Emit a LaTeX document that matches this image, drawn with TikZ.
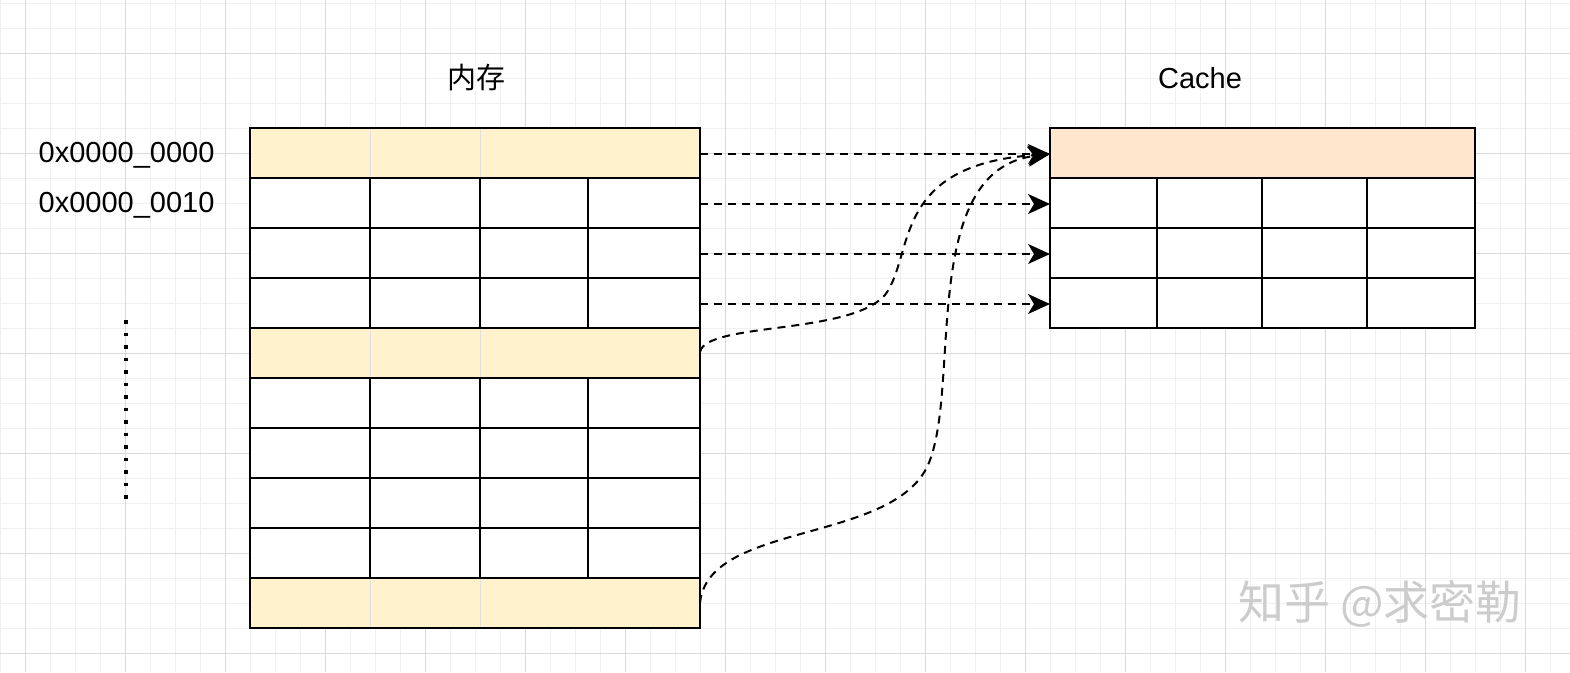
\documentclass[tikz,border=0pt]{standalone}
\usepackage{fontspec}
\setmainfont{Liberation Sans}
\newfontfamily\cjk{Noto Sans CJK SC}
\usetikzlibrary{arrows.meta}
\definecolor{memy}{HTML}{FFF2CC}
\definecolor{cacheo}{HTML}{FFE6CC}
\begin{document}
\begin{tikzpicture}[x=1pt,y=-1pt,
  cell/.style={draw=black,line width=2.2pt,fill=white},
  conn/.style={line width=2pt,dash pattern=on 8pt off 6pt,-{Stealth[length=22pt,width=20pt,inset=6pt]}},
  lab/.style={font=\fontsize{29}{32}\selectfont,anchor=center}]
\useasboundingbox (0,0) rectangle (1570,672);
\fill[white] (0,0) rectangle (1570,672);
% grid
\foreach \x in {0,25,...,1570} \draw[gray!12,line width=0.8pt] (\x,0) -- (\x,672);
\foreach \y in {3,28,...,672} \draw[gray!12,line width=0.8pt] (0,\y) -- (1570,\y);
\foreach \x in {25,125,...,1570} \draw[gray!30,line width=0.8pt] (\x,0) -- (\x,672);
\foreach \y in {53,153,...,672} \draw[gray!30,line width=0.8pt] (0,\y) -- (1570,\y);
% memory
\foreach \r in {0,...,9} {
  \pgfmathsetmacro\ya{128+50*\r}
  \foreach \xa/\xb in {250/370,370/480,480/588,588/700}
    \draw[cell] (\xa,\ya) rectangle (\xb,\ya+50);
}
\foreach \r in {0,4,9} {
  \pgfmathsetmacro\ya{128+50*\r}
  \fill[memy] (250,\ya) rectangle (700,\ya+50);
  \draw[black!12,line width=1pt] (370,\ya) -- (370,\ya+50) (480,\ya) -- (480,\ya+50);
}
\draw[line width=2.2pt] (250,128) rectangle (700,628);
\foreach \r in {1,4,5,9} \draw[line width=2.2pt] (250,128+50*\r) -- (700,128+50*\r);
% cache
\foreach \r in {1,2,3} {
  \pgfmathsetmacro\ya{128+50*\r}
  \foreach \xa/\xb in {1050/1157,1157/1262,1262/1367,1367/1475}
    \draw[cell] (\xa,\ya) rectangle (\xb,\ya+50);
}
\draw[cell,fill=cacheo] (1050,128) rectangle (1475,178);
% names
\node[lab,font=\cjk\fontsize{29}{32}\selectfont] (mem) at (476,78) {内存};
\node[lab] (cache) at (1200,78) {Cache};
\node[lab,anchor=east] (a0) at (218,155) {0x0000\_0000};
\node[lab,anchor=east] (a1) at (218,205) {0x0000\_0010};
\draw[line width=3.5pt,dash pattern=on 3.5pt off 9pt] (126,320) -- (126,506);
% connector points
\foreach \r in {0,1,2,3} {
  \coordinate (m\r) at (700,154+50*\r);
  \coordinate (c\r) at (1050,154+50*\r);
  \draw[conn] (m\r) -- (c\r);
}
\coordinate (m4) at (700,352);
\coordinate (m9) at (700,603);
\draw[conn] (m4) .. controls (706,322) and (850,335) .. (885,295) .. controls (915,255) and (890,165) .. (c0);
\draw[conn] (m9) .. controls (708,520) and (900,545) .. (930,460) .. controls (960,380) and (920,170) .. (c0);
\node[font=\cjk\fontsize{46}{48}\selectfont,text=gray!40] (wm) at (1380,604) {知乎 @求密勒};
\end{tikzpicture}
\end{document}
